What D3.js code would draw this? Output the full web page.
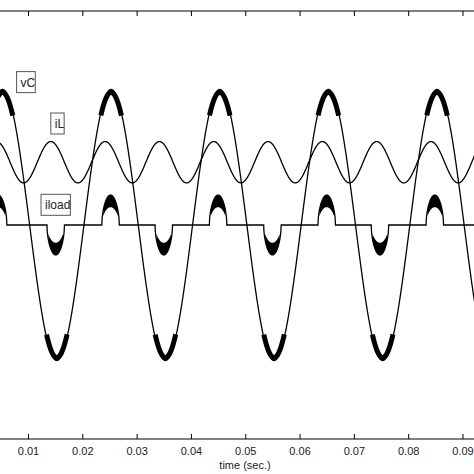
<!DOCTYPE html>
<html>
<head>
<meta charset="utf-8">
<script src="https://cdn.jsdelivr.net/npm/d3@7"></script>
<style>
body { margin:0; background:#fff; }
text { font-family: "Liberation Sans", Arial, sans-serif; font-size: 11px; fill:#222; }
</style>
</head>
<body>
<script>
// values
var xTicks = [0.01, 0.02, 0.03, 0.04, 0.05, 0.06, 0.07, 0.08, 0.09];
var vcPeakTimes = [0.0053, 0.0253, 0.0453, 0.0653, 0.0853];   // +peaks; troughs are halfway
var vcAmp = 0.95, vcFreq = 50;
var ilPeakTime = 0.0142, ilAmp = 0.145, ilOffset = 0.44, ilFreq = 100;
var loadPosTimes = [0.0045, 0.0252, 0.0450, 0.0650, 0.0849];
var loadNegTimes = [0.0151, 0.0350, 0.0550, 0.0748, 0.0948];
var loadAmp = 0.21, loadRipple = 0.085, loadWidth = 0.0032;
var labels = [{name:"vC", t:0.0079, v:0.97}, {name:"iL", t:0.0142, v:0.68}, {name:"iload", t:0.0124, v:0.11}];

var W = 474, H = 474;
var x = d3.scaleLinear().domain([0.01, 0.09]).range([28, 462.5]);
var y = d3.scaleLinear().domain([-1.5, 1.5]).range([439, 11]);
var svg = d3.select("body").append("svg").attr("width", W).attr("height", H);

var t0 = x.invert(-2), t1 = x.invert(W + 2);
var ts = d3.range(t0, t1, 0.00002);

function vC(t) { return vcAmp * Math.cos(2 * Math.PI * vcFreq * (t - vcPeakTimes[0])); }
function iL(t) { return ilOffset + ilAmp * Math.cos(2 * Math.PI * ilFreq * (t - ilPeakTime)); }
var posAll = loadPosTimes.concat([loadPosTimes[0] - 0.02]);
function pulse(t, amp) {
  var v = 0;
  posAll.forEach(function(c) {
    var u = (t - c) / loadWidth + 0.5;
    if (u > 0 && u < 1) v += amp * Math.sqrt(Math.sin(Math.PI * u));
  });
  loadNegTimes.forEach(function(c) {
    var u = (t - c) / loadWidth + 0.5;
    if (u > 0 && u < 1) v -= amp * Math.sqrt(Math.sin(Math.PI * u));
  });
  return v;
}
function iload(t) { return pulse(t, loadAmp); }

var line = d3.line().x(function(d) { return x(d[0]); }).y(function(d) { return y(d[1]); });
var g = svg.append("g").attr("fill", "none").attr("stroke", "#000");

// ripple band near vC extremes
var near = function(t, list, w) { return list.some(function(c) { return Math.abs(t - c) < w; }); };
var extremes = [];
vcPeakTimes.forEach(function(p) { extremes.push(p - 0.02, p, p + 0.01, p - 0.01); });
g.append("path").attr("stroke-width", 5)
  .attr("d", d3.line().defined(function(d) { return near(d[0], extremes, 0.0019); })
    .x(function(d) { return x(d[0]); }).y(function(d) { return y(d[1]); })
    (ts.map(function(t) { return [t, vC(t) - 0.02 * Math.sign(vC(t))]; })));

// ripple band on load current pulses (filled between outer and inner envelope)
var pulseTimes = posAll.concat(loadNegTimes);
svg.append("path").attr("fill", "#000")
  .attr("d", d3.area().defined(function(t) { return near(t, pulseTimes, loadWidth * 0.42); })
    .x(function(t) { return x(t); })
    .y0(function(t) { return y(pulse(t, loadAmp)); })
    .y1(function(t) { return y(pulse(t, loadAmp - loadRipple)); })(ts));

[vC, iL, iload].forEach(function(f) {
  g.append("path").attr("stroke-width", 1.3).attr("d", line(ts.map(function(t) { return [t, f(t)]; })));
});

// axes box
svg.append("g").attr("transform", "translate(0,439)")
  .call(d3.axisBottom(x).tickValues(xTicks).tickSize(-5).tickPadding(8).tickFormat(d3.format(".2f")))
  .call(function(a) { a.select(".domain").attr("d", "M0,0H" + W); a.selectAll("text").style("font-size", "11px"); });
svg.append("g").attr("transform", "translate(0,11)")
  .call(d3.axisTop(x).tickValues(xTicks).tickSize(-5).tickFormat(""))
  .call(function(a) { a.select(".domain").attr("d", "M0,0H" + W); });

svg.append("text").attr("x", 245).attr("y", 469).attr("text-anchor", "middle").text("time (sec.)");

// label boxes
labels.forEach(function(l) {
  var lg = svg.append("g").attr("transform", "translate(" + x(l.t) + "," + y(l.v) + ")");
  var tx = lg.append("text").attr("x", 4).attr("y", 0).style("font-size", "12px").text(l.name);
  var w = tx.node().getComputedTextLength();
  lg.insert("rect", "text").attr("x", 0).attr("y", -15).attr("width", w + 4).attr("height", 21)
    .attr("fill", "#fff").attr("stroke", "#555").attr("stroke-width", 1);
});
</script>
</body>
</html>
